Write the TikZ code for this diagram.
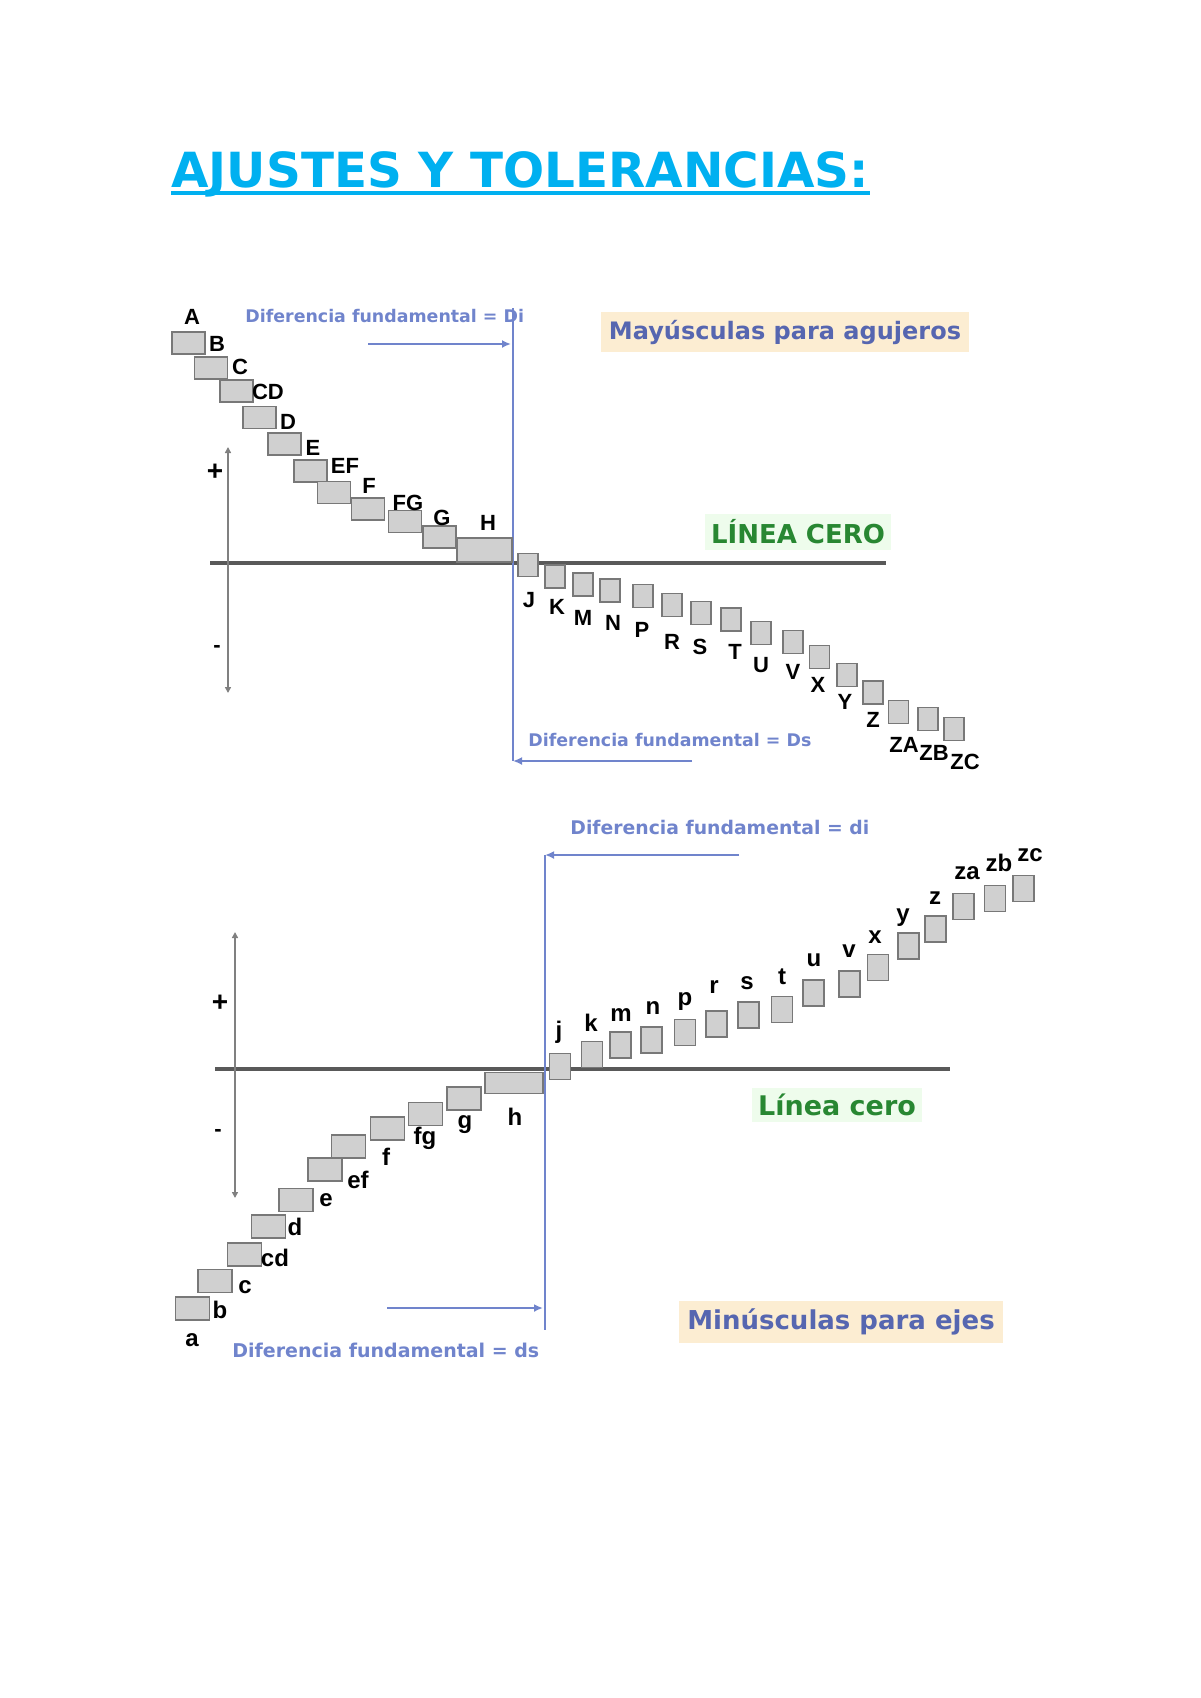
\documentclass[tikz,border=0pt]{standalone}
\usepackage{fontspec}
\usepackage{xcolor}
\usepackage{tikz}
\usetikzlibrary{arrows.meta}
\newfontfamily\djv{DejaVu Sans}
\newfontfamily\lib{Liberation Sans}
\definecolor{TituloAzul}{RGB}{0,176,240}
\definecolor{DifAzul}{RGB}{112,132,204}
\definecolor{TextoAzul}{RGB}{86,102,176}
\definecolor{CeroVerde}{RGB}{40,135,50}
\definecolor{GlowVerde}{RGB}{238,252,236}
\definecolor{FondoBeige}{RGB}{252,237,210}
\definecolor{CajaGris}{RGB}{208,208,208}
\definecolor{BordeGris}{RGB}{120,120,120}

\begin{document}
\begin{tikzpicture}[x=0.5pt,y=-0.5pt]
        % Estilos
        \tikzstyle{caja} = [
            draw=BordeGris,
            fill=CajaGris,
            line width=0.9pt,
            inner sep=0pt,
            outer sep=0pt
        ]
        \tikzstyle{letra} = [font=\lib\bfseries\fontsize{11}{13}\selectfont, inner sep=0pt]
        \tikzstyle{letrita} = [font=\lib\bfseries\fontsize{12}{14}\selectfont, inner sep=0pt]
        \tikzstyle{difer} = [font=\djv\bfseries\fontsize{8.7}{10}\selectfont, text=DifAzul, inner sep=0pt, anchor=west]
        \tikzstyle{flecha} = [draw=DifAzul, line width=1pt, -{Latex[length=4.5pt,width=4pt]}]
        \tikzstyle{eje} = [draw=gray, line width=0.9pt, {Triangle[length=3pt,width=3pt]}-{Triangle[length=3pt,width=3pt]}]
        \tikzstyle{cero} = [draw=black!65, line width=1.8pt]
        \tikzstyle{rotulo} = [font=\djv\bfseries\fontsize{12}{14}\selectfont, text=TextoAzul, fill=FondoBeige, inner xsep=4pt, inner ysep=4pt]
        \tikzstyle{verde} = [font=\djv\bfseries\fontsize{13}{15}\selectfont, text=CeroVerde, fill=GlowVerde, inner sep=3pt]

        \useasboundingbox (0,0) rectangle (1200,1698);

        % Titulo
        \node[font=\djv\bfseries\fontsize{24.2}{28}\selectfont, text=TituloAzul, anchor=base west, inner sep=0pt] (titulo) at (171,187) {AJUSTES Y TOLERANCIAS:};
        \draw[TituloAzul, line width=1.6pt] ([yshift=-3pt]titulo.base west) -- ([yshift=-3pt]titulo.base east);

        % ---------------- Agujeros (mayusculas) ----------------
        \coordinate (ceroAI) at (210,563);
        \coordinate (ceroAD) at (886,563);
        \coordinate (ejeAS) at (228,447);
        \coordinate (ejeAN) at (228,693);
        \coordinate (difAS) at (513,308);
        \coordinate (difAN) at (513,761);
        \coordinate (flAI) at (368,344);
        \coordinate (flAD) at (511,344);
        \coordinate (flBD) at (692,761);

        \draw[cero] (ceroAI) -- (ceroAD);
        \draw[eje] (ejeAS) -- (ejeAN);
        \node[font=\lib\bfseries\fontsize{14}{16}\selectfont] (masA) at (215,472) {+};
        \node[font=\lib\bfseries\fontsize{11}{13}\selectfont] (menosA) at (217,649) {-};
        \draw[DifAzul, line width=1pt] (difAS) -- (difAN);
        \draw[flecha] (flAI) -- (flAD);
        \draw[flecha] (flBD) -- (difAN);

        \node[difer] (difDi) at (245,316) {Diferencia fundamental = Di};
        \node[difer] (difDs) at (528,740) {Diferencia fundamental = Ds};
        \node[rotulo] (may) at (785,332) {Mayúsculas para agujeros};
        \node[verde] (lineaA) at (798,532) {LÍNEA CERO};

        % Posiciones A ... G
        \foreach \val/\cx/\cy/\lx/\ly in {A/188.5/343/192/317, B/211/368/217/344, C/236.5/391/240/367,
            CD/259.5/417.5/268/392, D/284.5/444/288/422, E/310.5/471/313/448, EF/334/492.5/345/466,
            F/368/509/369/486, FG/405/521.5/408/503, G/439.5/537/442/518} {
            \node[caja, minimum width=16.5pt, minimum height=11pt] (ag\val) at (\cx,\cy) {};
            \node[letra] (tag\val) at (\lx,\ly) {\val};
        }
        \node[caja, minimum width=27.5pt, minimum height=12pt] (agH) at (484.5,550) {};
        \node[letra] (tagH) at (488,523) {H};

        % Posiciones J ... ZC
        \foreach \val/\cx/\cy/\lx/\ly in {J/528/565/529/600, K/555/576.5/557/607, M/583/584.5/583/618,
            N/610/590.5/613/623, P/643/596/642/630, R/672/605/672/642, S/701/613/700/647,
            T/731/619.5/735/652, U/761/633/761/665, V/793/642/793/672, X/819.5/657/818/685,
            Y/847/675/845/702, Z/873/692.5/873/720, ZA/898.5/712/904/745, ZB/928/719/934/753,
            ZC/954/729/965/762} {
            \node[caja, minimum width=10pt, minimum height=11.5pt] (ag\val) at (\cx,\cy) {};
            \node[letra] (tag\val) at (\lx,\ly) {\val};
        }

        % ---------------- Ejes (minusculas) ----------------
        \coordinate (ceroEI) at (215,1069);
        \coordinate (ceroED) at (950,1069);
        \coordinate (ejeES) at (235,932);
        \coordinate (ejeEN) at (235,1198);
        \coordinate (difES) at (545,855);
        \coordinate (difEN) at (545,1330);
        \coordinate (flCD) at (739,855);
        \coordinate (flDI) at (387,1308);
        \coordinate (flDD) at (543,1308);

        \draw[cero] (ceroEI) -- (ceroED);
        \draw[eje] (ejeES) -- (ejeEN);
        \node[font=\lib\bfseries\fontsize{14}{16}\selectfont] (masE) at (220,1003) {+};
        \node[font=\lib\bfseries\fontsize{11}{13}\selectfont] (menosE) at (218,1133) {-};
        \draw[DifAzul, line width=1pt] (difES) -- (difEN);
        \draw[flecha] (flCD) -- (difES);
        \draw[flecha] (flDI) -- (flDD);

        \node[difer, font=\djv\bfseries\fontsize{9.4}{11}\selectfont] (difdi) at (570,827) {Diferencia fundamental = di};
        \node[difer, font=\djv\bfseries\fontsize{9.5}{11}\selectfont] (difds) at (232,1350) {Diferencia fundamental = ds};
        \node[rotulo, font=\djv\bfseries\fontsize{13}{15}\selectfont] (min) at (841,1322) {Minúsculas para ejes};
        \node[verde, font=\djv\bfseries\fontsize{13.5}{15}\selectfont] (lineaE) at (837,1105) {Línea cero};

        % Posiciones a ... g
        \foreach \val/\cx/\cy/\lx/\ly in {a/192.5/1308.5/192/1340, b/215/1281/220/1310, c/244.5/1254.5/245/1287,
            cd/268.5/1226.5/275/1258, d/296/1200/295/1227, e/325/1169.5/326/1200, ef/348.5/1146.5/358/1180,
            f/387.5/1128.5/386/1157, fg/425.5/1114/425/1138, g/464/1098.5/465/1125} {
            \node[caja, minimum width=17pt, minimum height=11.5pt] (ej\val) at (\cx,\cy) {};
            \node[letrita] (tej\val) at (\lx,\ly) {\val};
        }
        \node[caja, minimum width=29pt, minimum height=10.5pt] (ejh) at (514,1083) {};
        \node[letrita] (tejh) at (515,1117) {h};

        % Posiciones j ... zc
        \foreach \val/\cx/\cy/\lx/\ly in {j/560/1066.5/559/1032, k/592/1054.5/591/1023, m/620.5/1045/621/1015,
            n/651.5/1040/653/1008, p/685/1032.5/685/1002, r/716.5/1024/714/987, s/748.5/1015/747/983,
            t/782/1009.5/782/977, u/813.5/993/814/960, v/849.5/984/849/951, x/878/967.5/875/937,
            y/908.5/946/903/918, z/935.5/929/935/898, za/963.5/906.5/967/873, zb/995/898.5/999/863,
            zc/1023.5/888.5/1030/855} {
            \node[caja, minimum width=10.5pt, minimum height=13pt] (ej\val) at (\cx,\cy) {};
            \node[letrita] (tej\val) at (\lx,\ly) {\val};
        }
    \end{tikzpicture}
\end{document}
